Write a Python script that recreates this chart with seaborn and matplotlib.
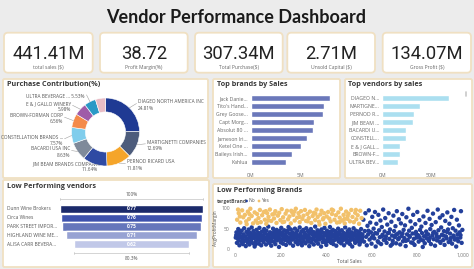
import matplotlib

matplotlib.use("Agg")

import matplotlib.pyplot as plt
import numpy as np
import pandas as pd
import seaborn as sns
from matplotlib.patches import FancyBboxPatch

# ---------------- data ----------------
kpi_values = ["441.41M", "38.72", "307.34M", "2.71M", "134.07M"]
kpi_labels = ["total sales ($)", "Profit Margin(%)", "Total Purchase($)",
              "Unsold Capital ($)", "Gross Profit ($)"]

donut_names = ["DIAGEO NORTH AMERICA INC", "MARTIGNETTI COMPANIES", "PERNOD RICARD USA",
               "JIM BEAM BRANDS COMPANY", "BACARDI USA INC", "CONSTELLATION BRANDS ...",
               "BROWN-FORMAN CORP", "E & J GALLO WINERY", "ULTRA BEVERAGE ...", "Other"]
donut_share = [24.81, 12.69, 11.81, 11.64, 8.63, 7.57, 6.56, 5.98, 5.53, 4.78]

brand_names = ["Jack Danie...", "Tito's Hand...", "Grey Goose...", "Capt Morg...",
               "Absolut 80 ...", "Jameson Iri...", "Ketel One ...", "Baileys Irish...", "Kahlua"]
brand_sales_m = [7.93, 7.37, 7.18, 6.33, 6.20, 5.67, 5.03, 4.10, 3.57]

vendor_names = ["DIAGEO N...", "MARTIGNE...", "PERNOD R...", "JIM BEAM ...", "BACARDI U...",
                "CONSTELL...", "E & J GALL...", "BROWN-F...", "ULTRA BEV..."]
vendor_sales_m = [69.0, 39.3, 32.4, 31.7, 24.8, 24.1, 18.3, 18.2, 16.5]

low_vendor_names = ["Dunn Wine Brokers", "Circa Wines", "PARK STREET IMPOR...",
                    "HIGHLAND WINE ME...", "ALISA CARR BEVERA..."]
low_vendor_ratio = [0.77, 0.76, 0.75, 0.71, 0.62]

# low performing brands (total sales, avg profit margin)
brands_yes = [
    (8, 72), (15, 88), (22, 65), (30, 95), (35, 78), (42, 84), (48, 68), (55, 92), (60, 74), (66, 99),
    (72, 81), (78, 63), (85, 90), (90, 70), (96, 86), (102, 76), (108, 96), (112, 66), (118, 83), (125, 91),
    (130, 72), (136, 62), (140, 88), (146, 79), (152, 97), (158, 69), (163, 85), (170, 75), (176, 93), (181, 64),
    (187, 82), (193, 89), (198, 71), (204, 98), (210, 78), (215, 67), (221, 87), (227, 94), (232, 73), (238, 80),
    (244, 63), (249, 91), (255, 84), (261, 70), (266, 99), (272, 77), (278, 88), (283, 66), (289, 93), (295, 74),
    (300, 82), (306, 96), (311, 69), (317, 86), (323, 76), (328, 92), (334, 64), (340, 81), (345, 89), (351, 71),
    (357, 97), (362, 79), (368, 67), (374, 85), (379, 94), (385, 73), (391, 88), (396, 62), (402, 80), (408, 91),
    (413, 75), (419, 68), (425, 86), (430, 95), (436, 72), (442, 83), (447, 65), (453, 90), (459, 77), (464, 99),
    (470, 70), (476, 84), (481, 63), (487, 92), (493, 74), (498, 87), (504, 68), (510, 96), (515, 79), (521, 66),
    (527, 89), (532, 73), (538, 83), (544, 62), (549, 94), (555, 76), (20, 80), (62, 86), (98, 64), (134, 93),
    (172, 87), (208, 66), (246, 94), (282, 79), (318, 68), (352, 87), (388, 76), (424, 97), (458, 66), (494, 81),
    (530, 96), (12, 97), (50, 61), (145, 70), (260, 92), (370, 60), (480, 74),
]
brands_no = [
    (2, 28), (5, 41), (7, 15), (10, 33), (13, 49), (15, 22), (18, 9), (20, 38), (23, 30), (26, 18),
    (28, 45), (31, 26), (33, 12), (36, 36), (39, 51), (41, 20), (44, 31), (46, 7), (49, 42), (52, 25),
    (54, 16), (57, 35), (59, 48), (62, 11), (65, 29), (67, 39), (70, 21), (72, 53), (75, 33), (78, 14),
    (80, 44), (83, 27), (85, 6), (88, 37), (91, 19), (93, 47), (96, 31), (98, 24), (101, 40), (104, 13),
    (106, 52), (109, 28), (111, 36), (114, 9), (117, 43), (119, 22), (122, 32), (124, 17), (127, 49), (130, 26),
    (132, 38), (135, 11), (137, 45), (140, 30), (143, 20), (145, 55), (148, 34), (150, 15), (153, 41), (156, 24),
    (158, 8), (161, 37), (163, 29), (166, 50), (169, 18), (171, 43), (174, 27), (176, 12), (179, 35), (182, 47),
    (184, 21), (187, 39), (189, 31), (192, 5), (195, 44), (197, 25), (200, 16), (202, 52), (205, 33), (208, 40),
    (210, 13), (213, 28), (215, 46), (218, 22), (221, 36), (223, 10), (226, 42), (228, 30), (231, 19), (234, 54),
    (236, 26), (239, 38), (241, 14), (244, 48), (247, 32), (249, 23), (252, 41), (254, 8), (257, 35), (260, 27),
    (262, 50), (265, 17), (267, 39), (270, 29), (273, 45), (275, 12), (278, 33), (280, 21), (283, 53), (286, 37),
    (288, 25), (291, 43), (293, 9), (296, 31), (299, 47), (301, 18), (304, 40), (306, 28), (309, 14), (312, 51),
    (314, 34), (317, 22), (319, 44), (322, 30), (325, 7), (327, 38), (330, 26), (332, 49), (335, 16), (338, 36),
    (340, 24), (343, 42), (345, 11), (348, 32), (351, 55), (353, 20), (356, 39), (358, 29), (361, 46), (364, 13),
    (366, 35), (369, 23), (371, 43), (374, 31), (377, 6), (379, 48), (382, 27), (384, 17), (387, 40), (390, 33),
    (392, 52), (395, 21), (397, 37), (400, 10), (403, 45), (405, 28), (408, 19), (410, 41), (413, 34), (416, 54),
    (418, 24), (421, 15), (423, 38), (426, 30), (429, 47), (431, 12), (434, 36), (436, 22), (439, 44), (442, 27),
    (444, 8), (447, 39), (449, 32), (452, 50), (455, 18), (457, 42), (460, 26), (462, 35), (465, 14), (468, 46),
    (470, 29), (473, 21), (475, 40), (478, 9), (481, 33), (483, 53), (486, 24), (488, 37), (491, 16), (494, 44),
    (496, 30), (499, 20), (501, 48), (504, 12), (507, 36), (509, 27), (512, 41), (514, 6), (517, 32), (520, 51),
    (522, 22), (525, 38), (527, 15), (530, 45), (533, 29), (535, 34), (538, 19), (540, 43), (543, 25), (546, 11),
    (548, 39), (551, 31), (553, 49), (556, 23), (559, 36),
    (4, 34), (12, 25), (21, 44), (29, 17), (38, 31), (47, 23), (56, 40), (64, 19), (73, 28), (82, 36),
    (90, 12), (99, 33), (108, 21), (116, 30), (125, 42), (134, 24), (142, 35), (151, 27), (160, 19), (168, 32),
    (177, 40), (186, 28), (194, 36), (203, 21), (212, 34), (220, 27), (229, 45), (238, 18), (246, 31), (255, 24),
    (264, 37), (272, 20), (281, 30), (290, 16), (298, 26), (307, 35), (316, 29), (324, 18), (333, 41), (342, 27),
    (350, 34), (359, 22), (368, 30), (376, 39), (385, 26), (394, 17), (402, 33), (411, 25), (420, 43), (428, 20),
    (437, 31), (446, 24), (454, 37), (463, 20), (472, 33), (480, 25), (489, 30), (498, 38), (506, 22), (515, 28),
    (524, 33), (532, 21), (541, 35), (550, 17), (558, 28),
    (563, 72), (566, 18), (569, 44), (572, 88), (575, 30), (578, 9), (581, 57), (584, 36), (587, 95), (590, 23),
    (593, 65), (596, 41), (599, 13), (602, 79), (605, 33), (608, 50), (611, 26), (614, 91), (617, 6), (620, 62),
    (623, 38), (626, 19), (629, 84), (632, 46), (635, 29), (638, 70), (641, 12), (644, 54), (647, 35), (650, 97),
    (653, 22), (656, 43), (659, 76), (662, 31), (665, 15), (668, 60), (671, 39), (674, 88), (677, 25), (680, 48),
    (683, 8), (686, 67), (689, 33), (692, 20), (695, 82), (698, 44), (701, 29), (704, 56), (707, 14), (710, 93),
    (713, 37), (716, 24), (719, 73), (722, 41), (725, 11), (728, 63), (731, 32), (734, 86), (737, 19), (740, 47),
    (743, 27), (746, 58), (749, 7), (752, 78), (755, 36), (758, 22), (761, 99), (764, 45), (767, 30), (770, 68),
    (773, 16), (776, 52), (779, 38), (782, 84), (785, 25), (788, 10), (791, 61), (794, 42), (797, 28), (800, 91),
    (803, 34), (806, 18), (809, 71), (812, 47), (815, 23), (818, 55), (821, 39), (824, 5), (827, 80), (830, 31),
    (833, 14), (836, 64), (839, 43), (842, 26), (845, 94), (848, 36), (851, 20), (854, 74), (857, 49), (860, 12),
    (863, 59), (866, 33), (869, 87), (872, 24), (875, 42), (878, 8), (881, 66), (884, 37), (887, 21), (890, 97),
    (893, 46), (896, 29), (899, 77), (902, 15), (905, 53), (908, 35), (911, 83), (914, 22), (917, 44), (920, 10),
    (923, 69), (926, 31), (929, 26), (932, 90), (935, 48), (938, 17), (941, 62), (944, 38), (947, 27), (950, 79),
    (953, 13), (956, 51), (959, 33), (962, 96), (965, 23), (968, 45), (971, 6), (974, 72), (977, 36), (980, 19),
    (983, 58), (986, 41), (989, 28), (992, 93), (995, 15), (998, 47), (585, 45), (600, 28), (615, 39), (630, 16),
    (645, 31), (660, 24), (675, 40), (690, 12), (705, 34), (720, 27), (735, 38), (750, 20), (765, 32), (780, 15),
    (795, 36), (810, 29), (825, 21), (840, 35), (855, 27), (870, 40), (885, 30), (900, 18), (915, 33), (930, 42),
    (945, 21), (960, 30), (975, 26), (990, 34),
]

# ---------------- styling ----------------
W, H = 474, 269
PAGE = "#ececec"
BORDER = "#f0e0c2"
TEXT = "#3a3a3a"
SMALL = "#666666"
donut_colors = ["#1f3a93", "#4d5c7c", "#f5a52a", "#2f4aa3", "#7f8a9a",
                "#80cdec", "#f48a4a", "#9f5ca8", "#2a99c6", "#e8bcc5"]
funnel_colors = ["#1b2a6b", "#3d52ad", "#6576bb", "#97a2d3", "#c1c8e8"]
NAVY = "#23409b"
GOLD = "#f2c16b"

sns.set_theme(style="white")
plt.rcParams["font.family"] = ["Open Sans", "DejaVu Sans"]

fig = plt.figure(figsize=(W / 100, H / 100), dpi=100)
fig.patch.set_facecolor(PAGE)


def px_axes(x0, y0, x1, y1):
    ax = fig.add_axes([x0 / W, 1 - y1 / H, (x1 - x0) / W, (y1 - y0) / H])
    ax.patch.set_alpha(0)
    return ax


bg = px_axes(0, 0, W, H)
bg.set_xlim(0, W)
bg.set_ylim(H, 0)
bg.axis("off")


def panel(x0, y0, x1, y1, rad=1.5):
    bg.add_patch(FancyBboxPatch((x0, y0), x1 - x0, y1 - y0,
                                boxstyle=f"round,pad=0,rounding_size={rad}",
                                fc="white", ec=BORDER, lw=1.3))


bg.text(236.5, 22.7, "Vendor Performance Dashboard", ha="center", va="baseline",
        fontsize=13, fontweight="bold", color="#1a1a1a", family=["Lato", "DejaVu Sans"])

# KPI cards
cards = [(4, 92.7), (100, 187.7), (195, 282.7), (287.3, 375), (382.7, 471)]
for (x0, x1), val, lab in zip(cards, kpi_values, kpi_labels):
    panel(x0, 32.7, x1, 72.7, rad=4)
    cx = (x0 + x1) / 2
    bg.text(cx, 59.3, val, ha="center", va="baseline", fontsize=13.2, color="#222222",
            family=["Roboto", "DejaVu Sans"])
    bg.text(cx, 68.6, lab, ha="center", va="baseline", fontsize=3.6, color=SMALL)

# panels
panel(3, 79, 208, 178)
panel(213, 79, 340, 178)
panel(345, 79, 472, 178)
panel(3, 180, 209, 267)
panel(213, 184, 472, 267)

title_kw = dict(fontsize=5.2, fontweight="bold", color=TEXT, va="baseline", ha="left")
bg.text(7, 86, "Purchase Contribution(%)", **title_kw)
bg.text(217, 85.5, "Top brands by Sales", **title_kw)
bg.text(348, 85.5, "Top vendors by sales", **title_kw)
bg.text(7, 188.5, "Low Performing vendors", **title_kw)
bg.text(217, 192, "Low Performing Brands", **title_kw)

# ---------------- donut ----------------
ax_d = px_axes(71.5, 98, 139.5, 166)
wedges, _ = ax_d.pie(donut_share, colors=donut_colors, startangle=90, counterclock=False,
                     radius=1, wedgeprops=dict(width=0.41, edgecolor="white", linewidth=0.4))
ax_d.set_xlim(-1, 1)
ax_d.set_ylim(-1, 1)
ax_d.set_aspect("equal")

label_pos = [(138, 105, "left"), (147, 145.3, "left"), (127, 165, "left"),
             (98, 166.7, "right"), (70, 152, "right"), (63, 140.3, "right"),
             (63, 118.7, "right"), (71, 106.8, "right"), (85, 96.3, "right")]
for i, (tx, ty, ha) in enumerate(label_pos):
    w = wedges[i]
    t = np.deg2rad((w.theta1 + w.theta2) / 2)
    if i == len(label_pos) - 1:
        txt = f"{donut_names[i]} {donut_share[i]:.2f}%"
    else:
        txt = f"{donut_names[i]}\n{donut_share[i]:.2f}%"
    bg.text(tx, ty, txt, ha=ha, va="center", multialignment=ha, fontsize=3.4,
            color="#555555", linespacing=1.3)
    ex = tx - 1.5 if ha == "left" else tx + 1.5
    ax_d.annotate("", xy=(np.cos(t), np.sin(t)), xycoords="data", xytext=(ex, ty - 1.5),
                  textcoords=bg.transData, annotation_clip=False,
                  arrowprops=dict(arrowstyle="-", color="#a0a0a0", lw=0.4,
                                  shrinkA=0, shrinkB=0))

# ---------------- top brands ----------------
tick_kw = dict(labelsize=3.7, colors=SMALL, length=0, pad=2)

ax_b = px_axes(250.7, 94, 332.7, 166)
sns.barplot(x=brand_sales_m, y=brand_names, color="#6b78ba", width=0.66,
            saturation=1, ax=ax_b)
ax_b.set_xlim(0, 8.2)
ax_b.set_xticks([0, 5])
ax_b.set_xticklabels(["0M", "5M"])
ax_b.tick_params(**tick_kw)
ax_b.tick_params(axis="x", pad=5)
sns.despine(ax=ax_b, left=True, bottom=True)

# ---------------- top vendors ----------------
ax_v = px_axes(382.3, 94, 454.8, 166)
sns.barplot(x=vendor_sales_m, y=vendor_names, color="#abdff0", width=0.66,
            saturation=1, ax=ax_v)
ax_v.set_xlim(0, 75)
ax_v.set_xticks([0, 50])
ax_v.set_xticklabels(["0M", "50M"])
ax_v.tick_params(**tick_kw)
ax_v.tick_params(axis="x", pad=5)
sns.despine(ax=ax_v, left=True, bottom=True)
bg.plot([466, 466], [92, 96], color="#c8c8c8", lw=1.2)

# ---------------- funnel ----------------
ax_f = px_axes(60, 204.2, 203, 248.8)
top = max(low_vendor_ratio)
ypos = np.arange(len(low_vendor_ratio))
ax_f.barh(ypos, low_vendor_ratio, left=[(top - v) / 2 for v in low_vendor_ratio],
          height=0.9, color=funnel_colors)
for y, v in zip(ypos, low_vendor_ratio):
    ax_f.text(top / 2, y, f"{v:.2f}", ha="center", va="center", fontsize=3.6,
              fontweight="bold", color="white")
ax_f.set_xlim(0, top)
ax_f.set_ylim(len(low_vendor_ratio) - 0.5, -0.5)
ax_f.axis("off")
for y, name in zip(ypos, low_vendor_names):
    bg.text(7, 208.7 + y * 8.9, name, ha="left", va="center", fontsize=3.5, color="#555555")

bg.plot([60, 203], [198.7, 198.7], color="#c4c4c4", lw=0.5)
bg.plot([60, 60], [197.7, 199.7], color="#c4c4c4", lw=0.5)
bg.plot([203, 203], [197.7, 199.7], color="#c4c4c4", lw=0.5)
bg.text(131.5, 195, "100%", ha="center", va="center", fontsize=3.4, color="#555555")
bg.plot([74, 189], [253.3, 253.3], color="#c4c4c4", lw=0.5)
bg.plot([74, 74], [252.3, 254.3], color="#c4c4c4", lw=0.5)
bg.plot([189, 189], [252.3, 254.3], color="#c4c4c4", lw=0.5)
bg.text(131.5, 258.3, "80.3%", ha="center", va="center", fontsize=3.4, color="#555555")

# ---------------- scatter ----------------
df = pd.DataFrame(
    [(s, m, "No") for s, m in brands_no] + [(s, m, "Yes") for s, m in brands_yes],
    columns=["TotalSales", "AvgProfitMargin", "targetBrand"],
)
ax_s = px_axes(231.9, 206.3, 466.2, 251)
sns.scatterplot(data=df, x="TotalSales", y="AvgProfitMargin", hue="targetBrand",
                palette={"No": NAVY, "Yes": GOLD}, s=10, linewidth=0, legend=False, ax=ax_s)
ax_s.set_xlim(-15, 1015)
ax_s.set_ylim(-5, 105)
ax_s.set_xticks([0, 200, 400, 600, 800, 1000])
ax_s.set_xticklabels(["0", "200", "400", "600", "800", "1,000"])
ax_s.set_yticks([0, 50, 100])
ax_s.tick_params(labelsize=3.6, colors="#777777", length=0, pad=1.5)
ax_s.set_xlabel("Total Sales", fontsize=3.6, color="#555555", labelpad=1)
ax_s.set_ylabel("AvgProfitMargin", fontsize=3.4, color="#555555", labelpad=2)
sns.despine(ax=ax_s, left=True, bottom=True)

# legend
bg.text(217, 201, "targetBrand", ha="left", va="center", fontsize=3.5,
        fontweight="bold", color="#555555")
bg.scatter([246.5, 259], [201, 201], s=4, c=[NAVY, GOLD], linewidths=0)
bg.text(248.5, 201, "No", ha="left", va="center", fontsize=3.5, color="#555555")
bg.text(261, 201, "Yes", ha="left", va="center", fontsize=3.5, color="#555555")

fig.savefig("out.png", dpi=100, facecolor=fig.get_facecolor())
